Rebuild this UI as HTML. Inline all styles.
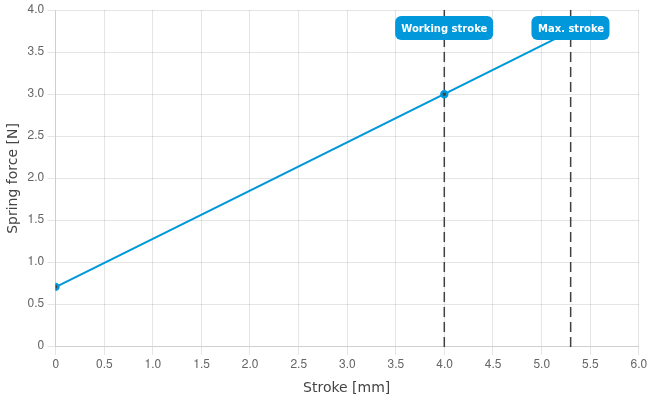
<!DOCTYPE html>
<html lang="en"><head><meta charset="utf-8"><title>Spring force chart</title>
<style>html,body{margin:0;padding:0;background:#fff;}body{width:650px;height:400px;overflow:hidden;}svg{display:block;}</style></head>
<body>
<svg width="650" height="400" viewBox="0 0 650 400">
<rect width="650" height="400" fill="#fff"/>
<defs><clipPath id="ca"><rect x="55.5" y="10" width="583.5" height="337"/></clipPath></defs>
<line x1="55.5" y1="10.0" x2="55.5" y2="347.0" stroke="rgba(0,0,0,0.19)" stroke-width="1"/>
<line x1="55.5" y1="347.0" x2="55.5" y2="355.0" stroke="rgba(0,0,0,0.1)" stroke-width="1"/>
<line x1="104.5" y1="10.0" x2="104.5" y2="346.0" stroke="rgba(0,0,0,0.1)" stroke-width="1"/>
<line x1="104.5" y1="347.0" x2="104.5" y2="355.0" stroke="rgba(0,0,0,0.1)" stroke-width="1"/>
<line x1="152.5" y1="10.0" x2="152.5" y2="346.0" stroke="rgba(0,0,0,0.1)" stroke-width="1"/>
<line x1="152.5" y1="347.0" x2="152.5" y2="355.0" stroke="rgba(0,0,0,0.1)" stroke-width="1"/>
<line x1="201.5" y1="10.0" x2="201.5" y2="346.0" stroke="rgba(0,0,0,0.1)" stroke-width="1"/>
<line x1="201.5" y1="347.0" x2="201.5" y2="355.0" stroke="rgba(0,0,0,0.1)" stroke-width="1"/>
<line x1="249.5" y1="10.0" x2="249.5" y2="346.0" stroke="rgba(0,0,0,0.1)" stroke-width="1"/>
<line x1="249.5" y1="347.0" x2="249.5" y2="355.0" stroke="rgba(0,0,0,0.1)" stroke-width="1"/>
<line x1="298.5" y1="10.0" x2="298.5" y2="346.0" stroke="rgba(0,0,0,0.1)" stroke-width="1"/>
<line x1="298.5" y1="347.0" x2="298.5" y2="355.0" stroke="rgba(0,0,0,0.1)" stroke-width="1"/>
<line x1="347.5" y1="10.0" x2="347.5" y2="346.0" stroke="rgba(0,0,0,0.1)" stroke-width="1"/>
<line x1="347.5" y1="347.0" x2="347.5" y2="355.0" stroke="rgba(0,0,0,0.1)" stroke-width="1"/>
<line x1="395.5" y1="10.0" x2="395.5" y2="346.0" stroke="rgba(0,0,0,0.1)" stroke-width="1"/>
<line x1="395.5" y1="347.0" x2="395.5" y2="355.0" stroke="rgba(0,0,0,0.1)" stroke-width="1"/>
<line x1="444.5" y1="10.0" x2="444.5" y2="346.0" stroke="rgba(0,0,0,0.1)" stroke-width="1"/>
<line x1="444.5" y1="347.0" x2="444.5" y2="355.0" stroke="rgba(0,0,0,0.1)" stroke-width="1"/>
<line x1="492.5" y1="10.0" x2="492.5" y2="346.0" stroke="rgba(0,0,0,0.1)" stroke-width="1"/>
<line x1="492.5" y1="347.0" x2="492.5" y2="355.0" stroke="rgba(0,0,0,0.1)" stroke-width="1"/>
<line x1="541.5" y1="10.0" x2="541.5" y2="346.0" stroke="rgba(0,0,0,0.1)" stroke-width="1"/>
<line x1="541.5" y1="347.0" x2="541.5" y2="355.0" stroke="rgba(0,0,0,0.1)" stroke-width="1"/>
<line x1="590.5" y1="10.0" x2="590.5" y2="346.0" stroke="rgba(0,0,0,0.1)" stroke-width="1"/>
<line x1="590.5" y1="347.0" x2="590.5" y2="355.0" stroke="rgba(0,0,0,0.1)" stroke-width="1"/>
<line x1="638.5" y1="10.0" x2="638.5" y2="346.0" stroke="rgba(0,0,0,0.1)" stroke-width="1"/>
<line x1="638.5" y1="347.0" x2="638.5" y2="355.0" stroke="rgba(0,0,0,0.1)" stroke-width="1"/>
<line x1="56.0" y1="10.5" x2="639.0" y2="10.5" stroke="rgba(0,0,0,0.1)" stroke-width="1"/>
<line x1="47.5" y1="10.5" x2="55.0" y2="10.5" stroke="rgba(0,0,0,0.1)" stroke-width="1"/>
<line x1="56.0" y1="52.5" x2="639.0" y2="52.5" stroke="rgba(0,0,0,0.1)" stroke-width="1"/>
<line x1="47.5" y1="52.5" x2="55.0" y2="52.5" stroke="rgba(0,0,0,0.1)" stroke-width="1"/>
<line x1="56.0" y1="94.5" x2="639.0" y2="94.5" stroke="rgba(0,0,0,0.1)" stroke-width="1"/>
<line x1="47.5" y1="94.5" x2="55.0" y2="94.5" stroke="rgba(0,0,0,0.1)" stroke-width="1"/>
<line x1="56.0" y1="136.5" x2="639.0" y2="136.5" stroke="rgba(0,0,0,0.1)" stroke-width="1"/>
<line x1="47.5" y1="136.5" x2="55.0" y2="136.5" stroke="rgba(0,0,0,0.1)" stroke-width="1"/>
<line x1="56.0" y1="178.5" x2="639.0" y2="178.5" stroke="rgba(0,0,0,0.1)" stroke-width="1"/>
<line x1="47.5" y1="178.5" x2="55.0" y2="178.5" stroke="rgba(0,0,0,0.1)" stroke-width="1"/>
<line x1="56.0" y1="220.5" x2="639.0" y2="220.5" stroke="rgba(0,0,0,0.1)" stroke-width="1"/>
<line x1="47.5" y1="220.5" x2="55.0" y2="220.5" stroke="rgba(0,0,0,0.1)" stroke-width="1"/>
<line x1="56.0" y1="262.5" x2="639.0" y2="262.5" stroke="rgba(0,0,0,0.1)" stroke-width="1"/>
<line x1="47.5" y1="262.5" x2="55.0" y2="262.5" stroke="rgba(0,0,0,0.1)" stroke-width="1"/>
<line x1="56.0" y1="304.5" x2="639.0" y2="304.5" stroke="rgba(0,0,0,0.1)" stroke-width="1"/>
<line x1="47.5" y1="304.5" x2="55.0" y2="304.5" stroke="rgba(0,0,0,0.1)" stroke-width="1"/>
<line x1="56.0" y1="346.5" x2="639.0" y2="346.5" stroke="rgba(0,0,0,0.19)" stroke-width="1"/>
<line x1="47.5" y1="346.5" x2="55.0" y2="346.5" stroke="rgba(0,0,0,0.1)" stroke-width="1"/>
<g font-family="'TeX Gyre Heros', 'Liberation Sans', Arial, sans-serif" font-size="12" fill="#666">
<text x="55.75" y="368" text-anchor="middle">0</text>
<text x="104.35" y="368" text-anchor="middle">0.5</text>
<text x="152.95" y="368" text-anchor="middle">1.0</text>
<text x="201.55" y="368" text-anchor="middle">1.5</text>
<text x="250.15" y="368" text-anchor="middle">2.0</text>
<text x="298.75" y="368" text-anchor="middle">2.5</text>
<text x="347.35" y="368" text-anchor="middle">3.0</text>
<text x="395.95" y="368" text-anchor="middle">3.5</text>
<text x="444.55" y="368" text-anchor="middle">4.0</text>
<text x="493.15" y="368" text-anchor="middle">4.5</text>
<text x="541.75" y="368" text-anchor="middle">5.0</text>
<text x="590.35" y="368" text-anchor="middle">5.5</text>
<text x="638.95" y="368" text-anchor="middle">6.0</text>
<text x="44.2" y="12.80" text-anchor="end">4.0</text>
<text x="44.2" y="54.80" text-anchor="end">3.5</text>
<text x="44.2" y="96.80" text-anchor="end">3.0</text>
<text x="44.2" y="138.80" text-anchor="end">2.5</text>
<text x="44.2" y="180.80" text-anchor="end">2.0</text>
<text x="44.2" y="222.80" text-anchor="end">1.5</text>
<text x="44.2" y="264.80" text-anchor="end">1.0</text>
<text x="44.2" y="306.80" text-anchor="end">0.5</text>
<text x="44.2" y="348.80" text-anchor="end">0</text>
</g>
<g font-family="'DejaVu Sans', Verdana, sans-serif" font-size="14" fill="#444">
<text x="346.70" y="392" text-anchor="middle">Stroke [mm]</text>
<text transform="translate(17.4,178.50) rotate(-90)" text-anchor="middle">Spring force [N]</text>
</g>
<line x1="55.5" y1="287.20" x2="570.66" y2="31.21" stroke="#0098db" stroke-width="2" stroke-linecap="butt"/>
<circle clip-path="url(#ca)" cx="55.5" cy="286.90" r="3" fill="#444" stroke="#0098db" stroke-width="2.4"/>
<line x1="444.30" y1="347" x2="444.30" y2="10" stroke="#404040" stroke-width="1.5" stroke-dasharray="10 5"/>
<line x1="570.66" y1="347" x2="570.66" y2="10" stroke="#404040" stroke-width="1.5" stroke-dasharray="10 5"/>
<circle cx="444.30" cy="94.20" r="3" fill="#444" stroke="#0098db" stroke-width="2.4"/>
<rect x="395.15" y="16" width="98" height="24" rx="6" ry="6" fill="#0098db"/>
<text x="444.30" y="31.7" text-anchor="middle" font-family="'DejaVu Sans', Verdana, sans-serif" font-weight="bold" font-size="10" fill="#fff">Working stroke</text>
<rect x="531.46" y="16" width="78" height="24" rx="6" ry="6" fill="#0098db"/>
<text x="571.06" y="31.7" text-anchor="middle" font-family="'DejaVu Sans', Verdana, sans-serif" font-weight="bold" font-size="10" fill="#fff">Max. stroke</text>
</svg>
</body></html>
